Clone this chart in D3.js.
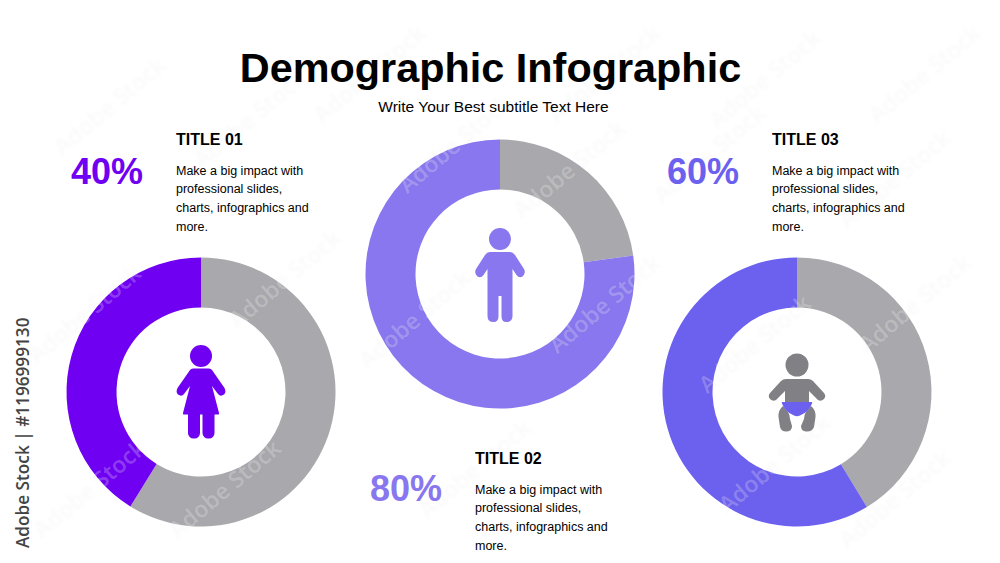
<!DOCTYPE html>
<html><head><meta charset="utf-8">
<script src="https://cdn.jsdelivr.net/npm/d3@7"></script>
<style>html,body{margin:0;padding:0;background:#fff;overflow:hidden}svg{display:block}text{font-family:"Liberation Sans",Arial,sans-serif}
.wm{font-family:"Open Sans";text-shadow:0 0 3px rgba(120,120,120,.16)}</style>
</head><body><svg id="c" width="1000" height="563"></svg>
<script>
const titles=["TITLE 01","TITLE 02","TITLE 03"];
const percentLabels=["40%","80%","60%"];
const greyShare=[58.8,22.8,41.3];
const colourShare=[41.2,77.2,58.7];
const colours=["#6f00f2","#8877ee","#6c60ee"];
const grey="#a9a8ad";
const centres=[[201,392],[500,274],[797,392]];
const body=["Make a big impact with","professional slides,","charts, infographics and","more."];
const blockX=[176,475,772],blockY=[145,464,145],pctX=[107,406,703],pctY=[184,501,184];
const marks=[[115,112],[255,125],[375,80],[610,80],[770,85],[930,80],[460,150],[575,175],[715,160],[900,185],[290,285],[610,310],[90,320],[420,325],[760,350],[920,310],[230,495],[480,475],[780,470],[900,505],[95,495]];

const svg=d3.select("#c");
const arc=d3.arc().innerRadius(84.5).outerRadius(134.5);
const pie=d3.pie().sort(null);

// rings first, watermark over them, text and icons on top
titles.forEach((t,i)=>{
  const g=svg.append("g").attr("transform",`translate(${centres[i]})`);
  g.selectAll("path").data(pie([greyShare[i],colourShare[i]])).join("path").attr("d",arc).attr("fill",(d,j)=>j?colours[i]:grey);
});
svg.append("g").selectAll("text").data(marks).join("text").attr("class","wm").attr("transform",d=>`translate(${d}) rotate(-40)`).attr("text-anchor","middle").attr("font-size",23).attr("font-weight",600).attr("fill","#fff").attr("fill-opacity",.24).text("Adobe Stock");

svg.append("text").attr("x",490.5).attr("y",82).attr("text-anchor","middle").attr("font-size",41.4).attr("font-weight",700).attr("fill","#000").text("Demographic Infographic");
svg.append("text").attr("x",493.5).attr("y",112).attr("text-anchor","middle").attr("font-size",15.5).attr("fill","#000").text("Write Your Best subtitle Text Here");

titles.forEach((t,i)=>{
  svg.append("text").attr("x",pctX[i]).attr("y",pctY[i]-.5).attr("text-anchor","middle").attr("font-size",36).attr("font-weight",700).attr("fill",colours[i]).text(percentLabels[i]);
  svg.append("text").attr("x",blockX[i]).attr("y",blockY[i]).attr("font-size",16).attr("font-weight",700).attr("fill","#000").text(t);
  body.forEach((l,k)=>svg.append("text").attr("x",blockX[i]).attr("y",blockY[i]+29.5+k*18.7).attr("font-size",12.5).attr("fill","#000").text(l));
});

// woman icon
{const g=svg.append("g").attr("fill",colours[0]);
 g.append("circle").attr("cx",201).attr("cy",356).attr("r",11);
 g.append("path").attr("d","M193 368.5H209Q211 368.5 212 370L224.5 388Q226.5 392 224 394.5Q220.5 397 218 394L212 386L219 413Q219.5 414.5 218 414.5H184Q182.5 414.5 183 413L190 386L184 394Q181.5 397 178 394.5Q175.5 392 177.5 388L190 370Q191 368.5 193 368.5Z");
 g.append("rect").attr("x",188).attr("y",408).attr("width",12).attr("height",30.5).attr("rx",5.5);
 g.append("rect").attr("x",202.5).attr("y",408).attr("width",12).attr("height",30.5).attr("rx",5.5);}
// man icon
{const g=svg.append("g").attr("fill",colours[1]);
 g.append("circle").attr("cx",500).attr("cy",239).attr("r",11);
 g.append("path").attr("d","M490 252H510Q513 252 515 255L524 269Q526 273 523 276Q519.5 279 516.5 275L512.5 269V316Q512.5 322 506 322Q501.5 322 501.5 316V296H498.5V316Q498.5 322 493.5 322Q487.5 322 487.5 316V269L483.5 275Q480.5 279 477 276Q474 273 476 269L485 255Q487 252 490 252Z");}
// baby icon
{const g=svg.append("g").attr("fill","#808085");
 g.append("circle").attr("cx",797).attr("cy",365).attr("r",11.5);
 g.append("path").attr("d","M786 379H808Q811 379 813 381L824 393Q826.5 396 824 399Q821 402 818 400L809 391V402H785V391L776 400Q773 402 770 399Q767.5 396 770 393L781 381Q783 379 786 379Z");
 g.append("path").attr("d","M783 406L788 412Q790 415 790 419L792 426Q792 431 787 431.5Q781.5 432 780 427L778.5 417Q778 410 783 406Z");
 g.append("path").attr("d","M811 406L806 412Q804 415 804 419L801 426Q801 431 806 431.5Q812 432 814 427L815.5 417Q816 410 811 406Z");
 g.append("path").attr("fill",colours[2]).attr("d","M782 402H812Q812.5 402 812 403.5Q809 412 800 415.5Q797 417 794 415.5Q785 412 782 403.5Q781.5 402 782 402Z");}

svg.append("text").attr("transform","translate(29,548) rotate(-90)").attr("style",'font-family:"Open Sans"').attr("font-size",17.2).attr("font-weight",600).attr("fill","#444").text("Adobe Stock | #1196999130");
</script></body></html>
